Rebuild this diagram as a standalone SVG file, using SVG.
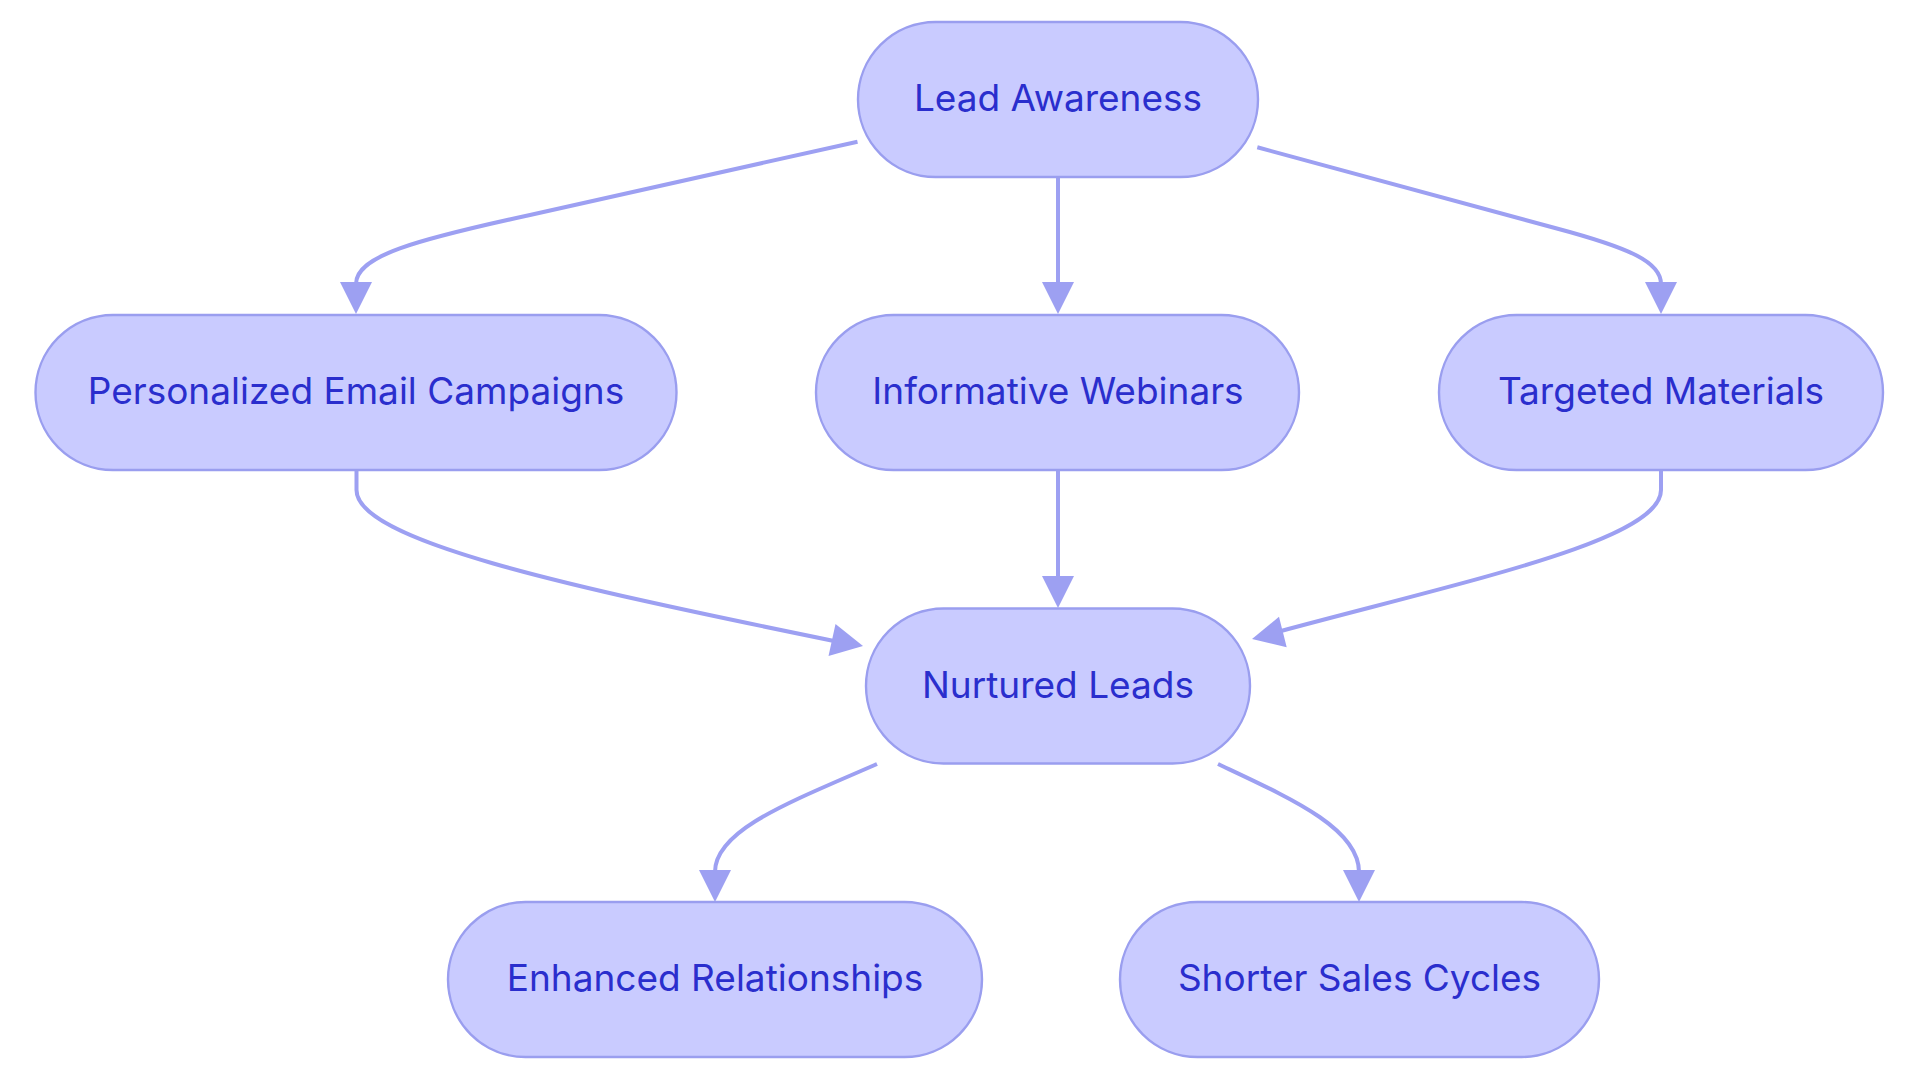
<svg xmlns="http://www.w3.org/2000/svg" width="1920" height="1083" viewBox="0 0 1920 1083">
<style>
.node rect{fill:#C9CBFF;stroke:#9A9EEF;stroke-width:2.4}
.node text{font-family:Inter,"Noto Sans","Liberation Sans",sans-serif;font-size:37px;fill:#2A2ECD;text-anchor:middle}
.edge{fill:none;stroke:#9DA0F2;stroke-width:4}
.head{fill:#9DA0F2;stroke:none}
</style>
<rect width="1920" height="1083" fill="#FFFFFF"/>
<g id="connectors">
<path class="edge" d="M857.5,141.7 L530,215 C415,240 356,256 356,284"/>
<polygon class="head" points="340,282 372,282 356,314"/>
<path class="edge" d="M1058,177 L1058,284"/>
<polygon class="head" points="1042,282 1074,282 1058,314"/>
<path class="edge" d="M1257.3,147.3 L1555,228 C1630,248 1661,262 1661,284"/>
<polygon class="head" points="1645,282 1677,282 1661,314"/>
<path class="edge" d="M356.5,470 L356.5,490 C356.5,540 560,585 834,641"/>
<polygon class="head" points="835.5,624 828.5,656 863,646"/>
<path class="edge" d="M1058,470 L1058,578"/>
<polygon class="head" points="1042,576 1074,576 1058,608"/>
<path class="edge" d="M1661,470 L1661,490 C1661,540 1470,580 1281,631"/>
<polygon class="head" points="1279,616.7 1286.7,647.3 1252,639"/>
<path class="edge" d="M877,764 C790,802 715,830 715,872"/>
<polygon class="head" points="699,870 731,870 715,902"/>
<path class="edge" d="M1218,764 C1290,798 1359,828 1359,872"/>
<polygon class="head" points="1343,870 1375,870 1359,902"/>
</g>
<g id="node-lead-awareness" class="node">
<rect x="858" y="22" width="400" height="155" rx="77.5" ry="77.5"/>
<text x="1058" y="111">Lead Awareness</text>
</g>
<g id="node-personalized-email" class="node">
<rect x="35.5" y="315" width="641" height="155" rx="77.5" ry="77.5"/>
<text x="356" y="404">Personalized Email Campaigns</text>
</g>
<g id="node-informative-webinars" class="node">
<rect x="816" y="315" width="483" height="155" rx="77.5" ry="77.5"/>
<text x="1058" y="404">Informative Webinars</text>
</g>
<g id="node-targeted-materials" class="node">
<rect x="1439" y="315" width="444" height="155" rx="77.5" ry="77.5"/>
<text x="1661" y="404">Targeted Materials</text>
</g>
<g id="node-nurtured-leads" class="node">
<rect x="866" y="608.5" width="384" height="155" rx="77.5" ry="77.5"/>
<text x="1058" y="698">Nurtured Leads</text>
</g>
<g id="node-enhanced-relationships" class="node">
<rect x="448" y="902" width="534" height="155" rx="77.5" ry="77.5"/>
<text x="715" y="991">Enhanced Relationships</text>
</g>
<g id="node-shorter-sales-cycles" class="node">
<rect x="1120" y="902" width="479" height="155" rx="77.5" ry="77.5"/>
<text x="1359.5" y="991">Shorter Sales Cycles</text>
</g>
</svg>
